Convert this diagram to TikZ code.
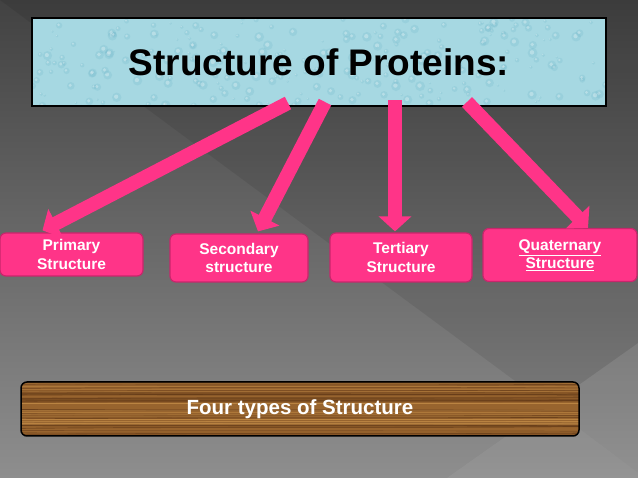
\documentclass[tikz,border=0pt]{standalone}
\usepackage{fontspec}
\setmainfont{Liberation Sans}
\usetikzlibrary{arrows.meta,calc}

\definecolor{pinkbox}{RGB}{255,52,136}
\definecolor{pinkedge}{RGB}{200,38,108}
\definecolor{aqua}{RGB}{166,216,226}
\definecolor{aquadark}{RGB}{96,172,194}
\definecolor{wood}{RGB}{152,100,46}
\definecolor{wooddark}{RGB}{84,46,18}
\definecolor{woodlight}{RGB}{206,150,78}
\definecolor{bgtop}{RGB}{66,66,66}
\definecolor{bgbot}{RGB}{142,142,142}

\begin{document}
\begin{tikzpicture}[
    x=1pt, y=-1pt,
    every node/.style={font=\bfseries},
    titlebox/.style={rectangle, draw=black, line width=1.5pt, fill=aqua,
                     minimum width=574pt, minimum height=88pt, inner sep=0pt,
                     font=\fontsize{37}{40}\selectfont\bfseries,
                     path picture={
                       \pgfmathsetseed{5}
                       \foreach \d in {1,...,260} {
                         \pgfmathsetmacro\dx{574*rnd}
                         \pgfmathsetmacro\dy{88*rnd}
                         \pgfmathsetmacro\dr{1+4*rnd}
                         \fill[aquadark, opacity=0.18]
                           ($(path picture bounding box.north west)+(\dx,\dy)$) circle (\dr pt);
                         \fill[white, opacity=0.3]
                           ($(path picture bounding box.north west)+(\dx-0.6,\dy-0.6)$) circle (0.45*\dr pt);
                       }}},
    kind/.style={rectangle, rounded corners=6pt, draw=pinkedge, line width=1.2pt,
                 fill=pinkbox, text=white, align=center, inner sep=0pt,
                 font=\fontsize{15.5}{18.5}\selectfont\bfseries},
    woodbar/.style={rectangle, rounded corners=6pt, draw=black, line width=1.5pt,
                    fill=wood, text=white, minimum width=558pt, minimum height=54pt,
                    font=\fontsize{20.5}{24}\selectfont\bfseries,
                    path picture={
                      \pgfmathsetseed{11}
                      \foreach \g in {1,...,40} {
                        \pgfmathsetmacro\op{0.15+0.45*rnd}
                        \pgfmathsetmacro\lw{0.4+1.2*rnd}
                        \pgfmathsetmacro\gy{54*rnd}
                        \pgfmathsetmacro\gw{2*rand}
                        \draw[wooddark, opacity=\op, line width=\lw pt]
                          ($(path picture bounding box.north west)+(0,\gy)$)
                          .. controls +(180,\gw) and +(-180,-\gw) .. ++(560,\gw);
                      }
                      \foreach \g in {1,...,18} {
                        \pgfmathsetmacro\gy{54*rnd}
                        \draw[woodlight, opacity=0.4, line width=0.8pt]
                          ($(path picture bounding box.north west)+(0,\gy)$) -- ++(560,0);
                      }}},
    e/.style={pinkbox, line width=14pt, -{Triangle[width=32pt, length=15pt]}},
  ]
  % background facets
  \useasboundingbox (0,0) rectangle (638,478);
  \fill[top color=bgtop, bottom color=bgbot] (0,0) rectangle (638,478);
  \coordinate (x) at (549,406);
  \fill[black, opacity=0.08] (0,0) -- (638,0) -- (638,343) -- (x) -- cycle;
  \fill[white, opacity=0.03] (638,343) -- (x) -- (638,473) -- cycle;
  \fill[white, opacity=0.06] (x) -- (447,478) -- (638,478) -- (638,473) -- cycle;

  \node[titlebox] (title) at (319,62) {Structure of Proteins:};

  \node[kind, minimum width=143pt, minimum height=43pt] (prim) at (71.5,254.5) {Primary\\Structure};
  \node[kind, minimum width=138pt, minimum height=48pt] (sec) at (239,258) {Secondary\\structure};
  \node[kind, minimum width=142pt, minimum height=49pt] (ter) at (401,257.5) {Tertiary\\Structure};
  \node[kind, minimum width=154pt, minimum height=53pt] (quat) at (560,255) {\underline{Quaternary}\\\underline{Structure}};

  \coordinate (t1) at (288,103);
  \coordinate (t2) at (325,102);
  \coordinate (t3) at (395,100);
  \coordinate (t4) at (467,102);
  \draw[e] (t1) -- ($(prim.north)+(-29,-2)$);
  \draw[e] (t2) -- ($(sec.north)+(19,-2)$);
  \draw[e] (t3) -- ($(ter.north)+(-6,-1)$);
  \draw[e] (t4) -- ($(quat.north)+(28,0)$);

  \node[woodbar] (types) at (300,409) {Four types of Structure};
\end{tikzpicture}
\end{document}
